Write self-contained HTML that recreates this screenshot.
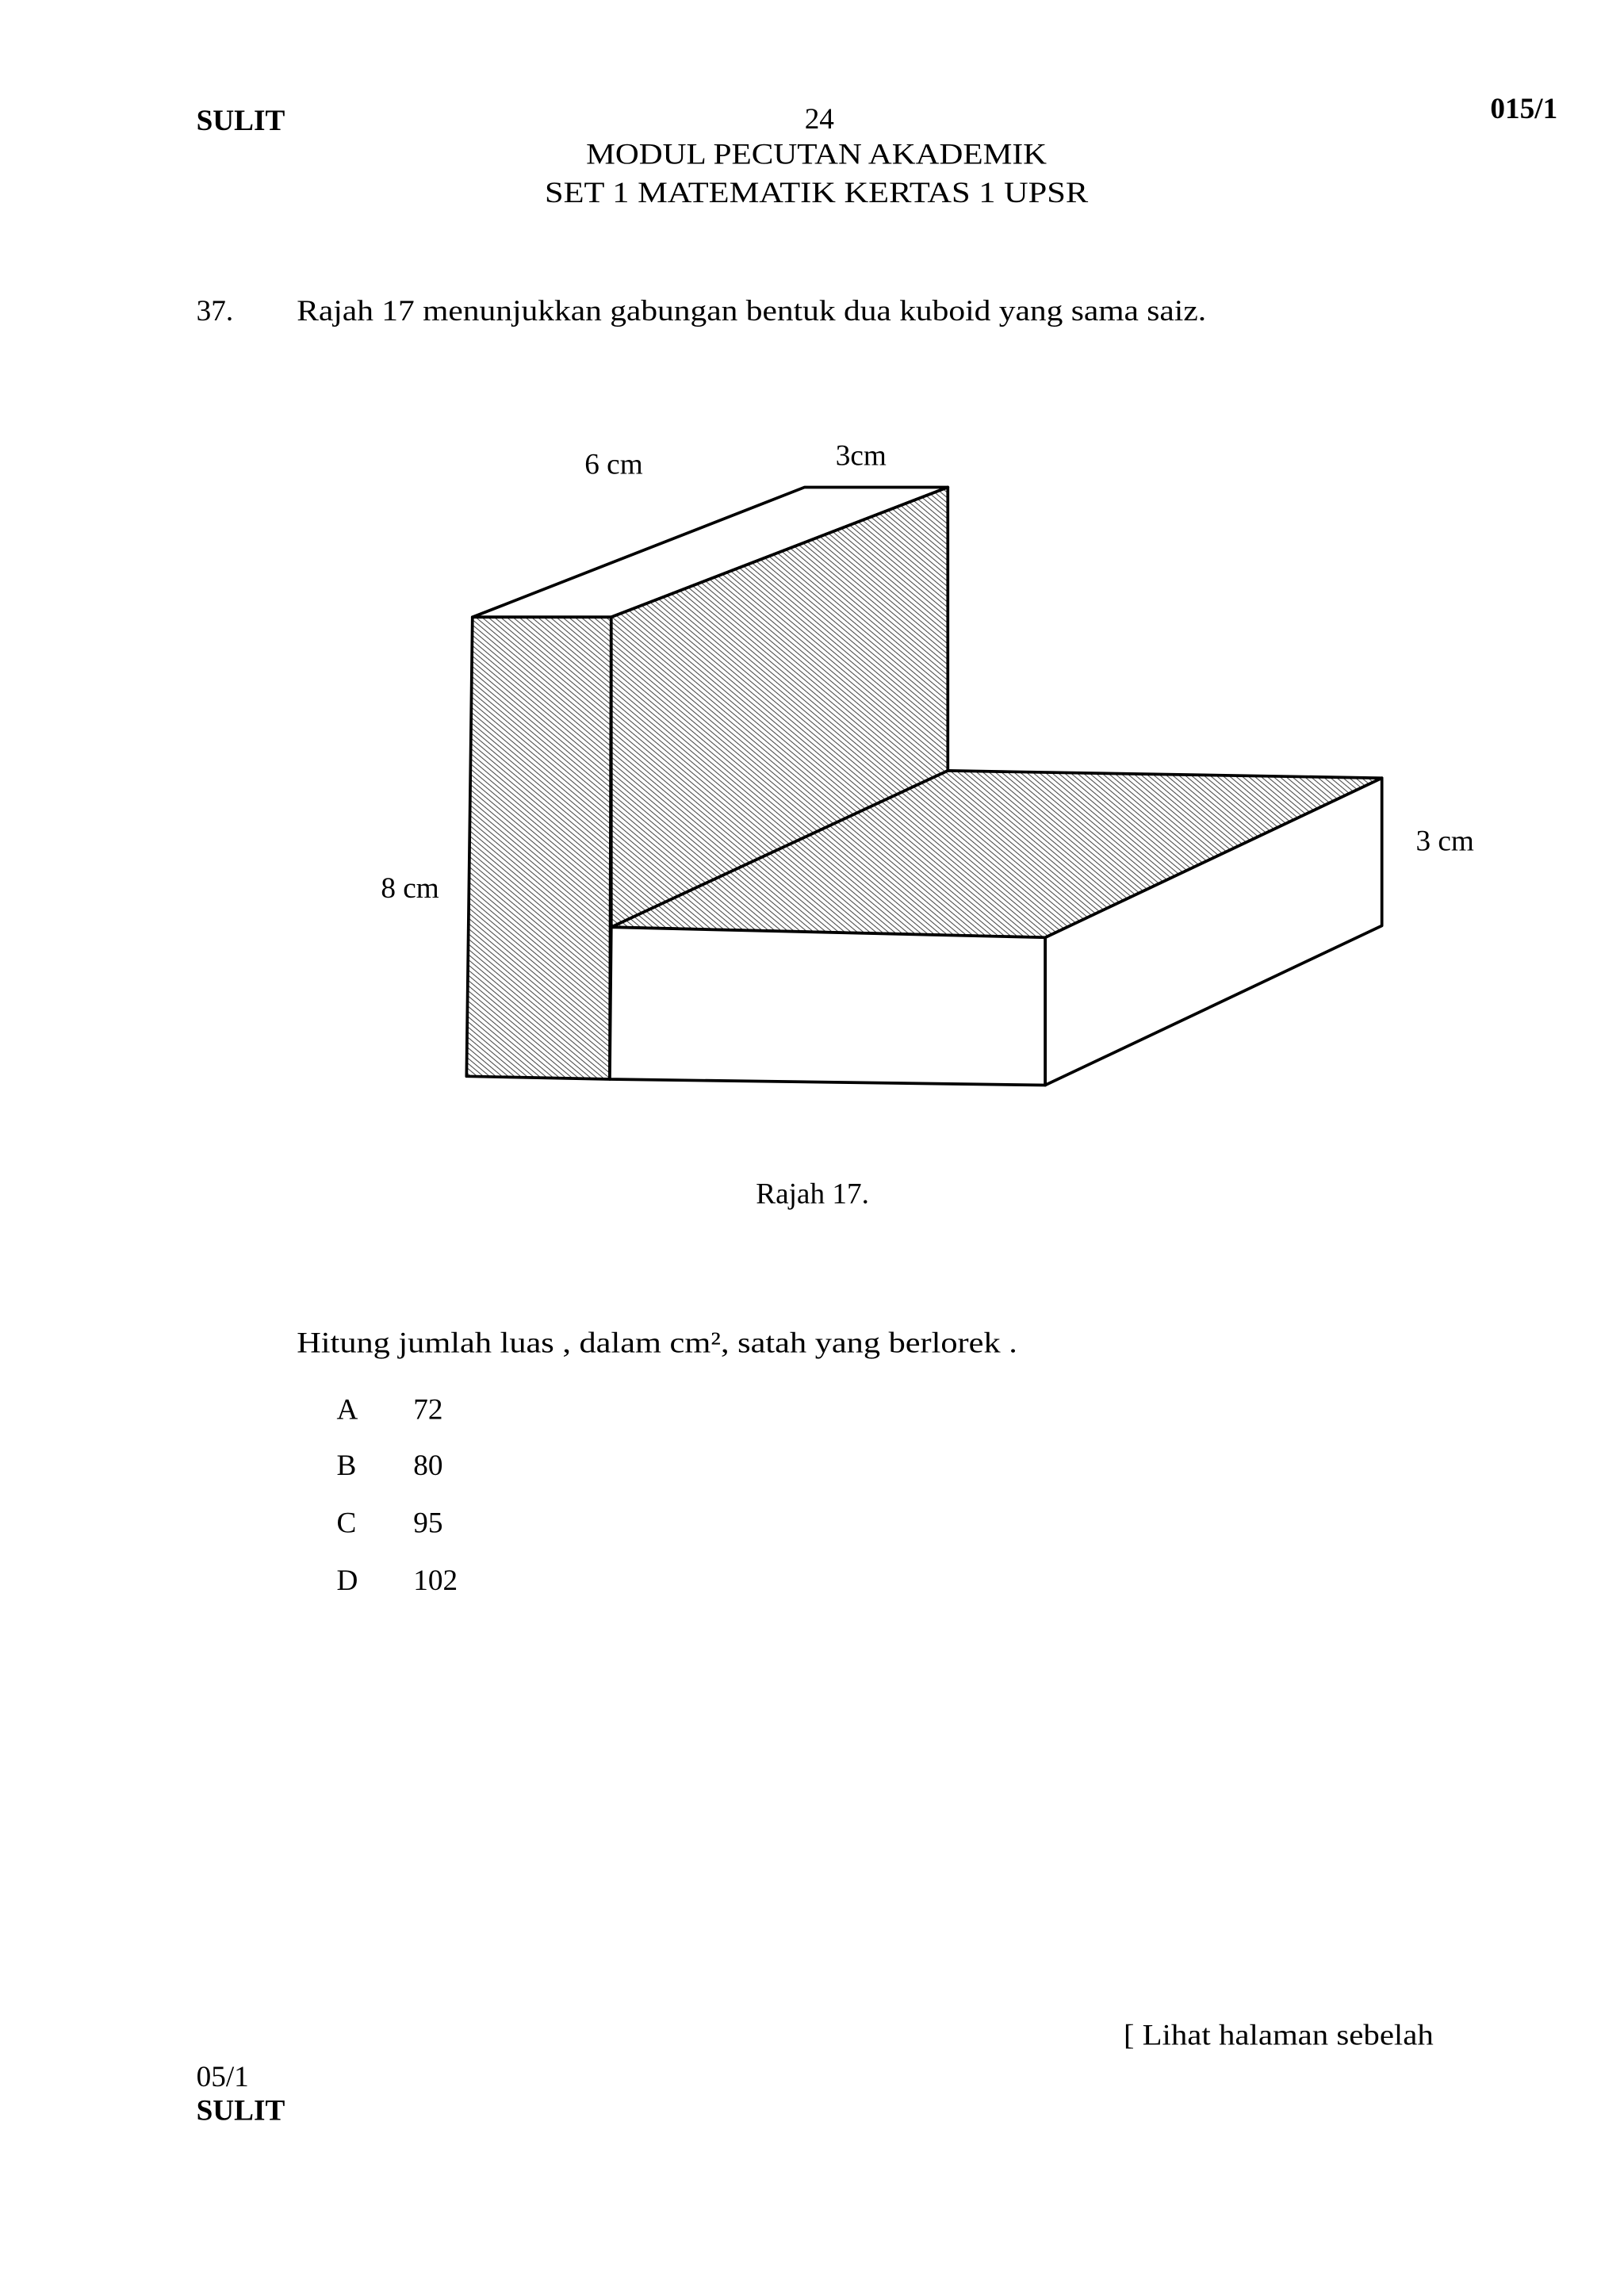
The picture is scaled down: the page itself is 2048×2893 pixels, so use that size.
<!DOCTYPE html>
<html><head><meta charset="utf-8"><style>html,body{margin:0;padding:0;background:#fff}svg{display:block}</style></head>
<body>
<svg width="2048" height="2893" viewBox="0 0 1100 1553.8" xmlns="http://www.w3.org/2000/svg">
<defs>
<pattern id="h" width="2.7" height="2.7" patternUnits="userSpaceOnUse" patternTransform="rotate(-50)">
<rect width="2.7" height="2.7" fill="#fff"/>
<line x1="0" y1="0" x2="0" y2="2.7" stroke="#444" stroke-width="1.1"/>
</pattern>
</defs>
<g font-family="Liberation Serif, serif" font-size="20" fill="#000">
<text x="133" y="88" font-weight="bold">SULIT</text>
<text x="555" y="87" text-anchor="middle">24</text>
<text x="1055" y="80" text-anchor="end" font-weight="bold">015/1</text>
<text x="397" y="111" textLength="312" lengthAdjust="spacingAndGlyphs">MODUL PECUTAN AKADEMIK</text>
<text x="369" y="137" textLength="368" lengthAdjust="spacingAndGlyphs">SET 1 MATEMATIK  KERTAS 1 UPSR</text>
<text x="133" y="217">37.</text>
<text x="201" y="217" textLength="616" lengthAdjust="spacingAndGlyphs">Rajah 17 menunjukkan  gabungan  bentuk  dua  kuboid  yang  sama  saiz.</text>
<text x="396" y="321">6 cm</text>
<text x="566" y="315">3cm</text>
<text x="258" y="608">8 cm</text>
<text x="959" y="576">3 cm</text>
<text x="512" y="815">Rajah  17.</text>
<text x="201" y="916" textLength="488" lengthAdjust="spacingAndGlyphs">Hitung  jumlah  luas  , dalam  cm², satah yang  berlorek  .</text>
<text x="228" y="961">A</text><text x="280" y="961">72</text>
<text x="228" y="999">B</text><text x="280" y="999">80</text>
<text x="228" y="1038">C</text><text x="280" y="1038">95</text>
<text x="228" y="1077">D</text><text x="280" y="1077">102</text>
<text x="761" y="1385" textLength="210" lengthAdjust="spacingAndGlyphs">[ Lihat  halaman  sebelah</text>
<text x="133" y="1413">05/1</text>
<text x="133" y="1436" font-weight="bold">SULIT</text>
</g>
<g stroke="#000" stroke-width="2" stroke-linejoin="round">
<polygon points="320,418 414,418 642,330 545,330" fill="#fff"/>
<polygon points="320,418 414,418 413,731 316,729" fill="url(#h)"/>
<polygon points="414,418 642,330 642,522 414,628" fill="url(#h)"/>
<polygon points="414,628 642,522 936,527 708,635" fill="url(#h)"/>
<polygon points="414,628 708,635 708,735 413,731" fill="#fff"/>
<polygon points="708,635 936,527 936,627 708,735" fill="#fff"/>
</g>
</svg>
</body></html>
